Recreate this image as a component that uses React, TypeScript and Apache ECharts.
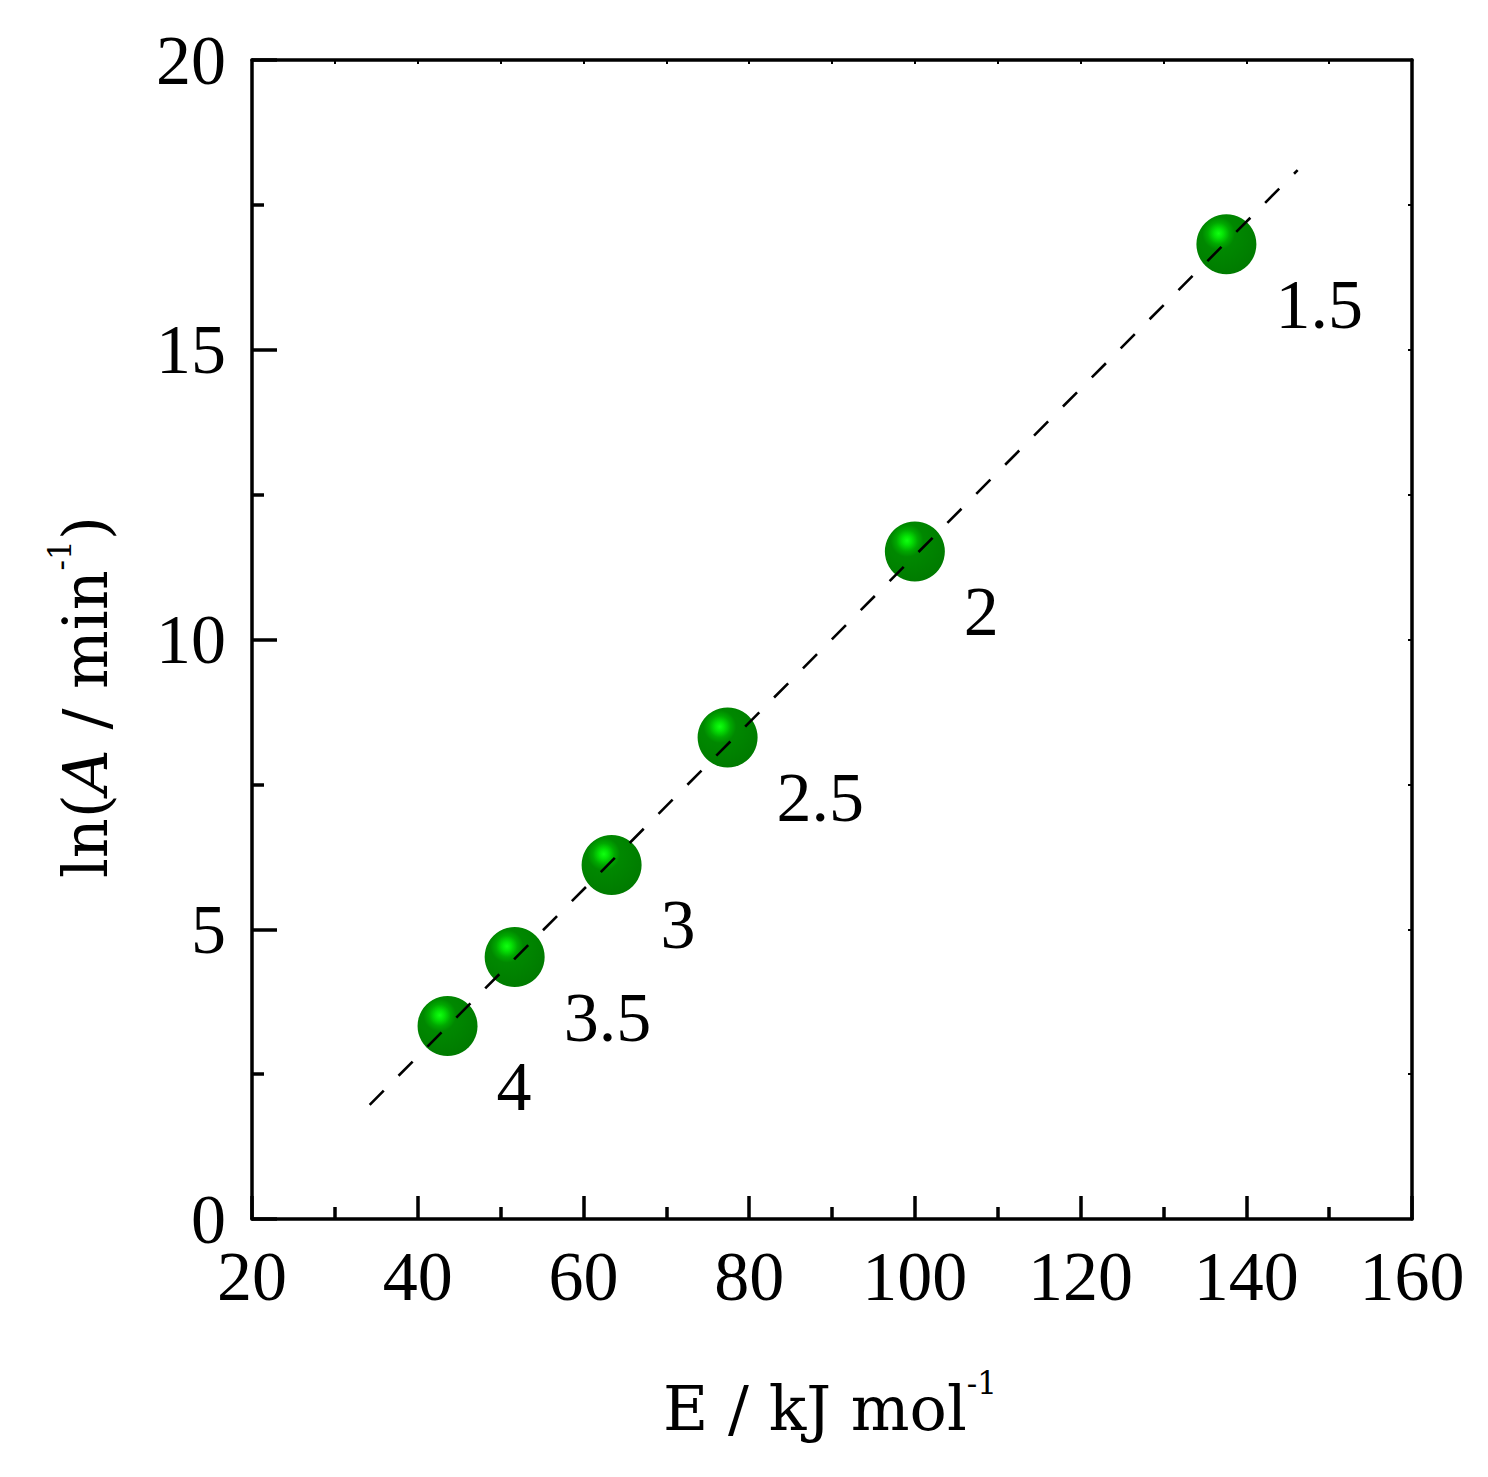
import React, { useEffect, useRef } from "react";
import * as echarts from "echarts";

// Data
const activationEnergy = [43.6, 51.7, 63.4, 77.4, 100.0, 137.6]; // E / kJ mol-1
const lnA = [3.33, 4.52, 6.11, 8.31, 11.52, 16.82]; // ln(A / min-1)
const pointLabels = ["4", "3.5", "3", "2.5", "2", "1.5"];
const fitLineX = [34.2, 146.2];
const fitLineY = [1.97, 18.1];

const xMin = 20;
const xMax = 160;
const xStep = 20;
const yMin = 0;
const yMax = 20;
const yStep = 5;

const NUM_FONT = "'Liberation Serif', 'Times New Roman', serif";
const TITLE_FONT = "'DejaVu Serif', 'Liberation Serif', serif";

export default function App() {
  const ref = useRef<HTMLDivElement>(null);

  useEffect(() => {
    if (!ref.current) return;
    const chart = echarts.init(ref.current, undefined, { renderer: "svg" });

    const scatterData = activationEnergy.map((x, i) => ({
      value: [x, lnA[i]],
      name: pointLabels[i],
    }));
    const fitData = fitLineX.map((x, i) => [x, fitLineY[i]]);

    const axisLine = { show: true, onZero: false, lineStyle: { color: "#000", width: 3.5 } };

    const sphere = {
      type: "radial",
      x: 0.37,
      y: 0.32,
      r: 0.72,
      colorStops: [
        { offset: 0, color: "#10ff10" },
        { offset: 0.1, color: "#05e605" },
        { offset: 0.25, color: "#00a800" },
        { offset: 0.38, color: "#008800" },
        { offset: 1, color: "#007a00" },
      ],
    };

    chart.setOption({
      animation: false,
      backgroundColor: "#fff",
      grid: { left: 244, top: 52, right: 68, bottom: 250, containLabel: false },
      xAxis: [
        {
          type: "value",
          position: "bottom",
          min: xMin,
          max: xMax,
          interval: xStep,
          axisLine,
          axisTick: { show: true, inside: true, length: 23, lineStyle: { color: "#000", width: 3.5 } },
          minorTick: { show: true, splitNumber: 2, length: 12, lineStyle: { color: "#000", width: 3.5 } },
          splitLine: { show: false },
          axisLabel: { show: true, margin: 22, color: "#000", fontSize: 70, fontFamily: NUM_FONT },
        },
        {
          type: "value",
          position: "top",
          min: xMin,
          max: xMax,
          interval: xStep,
          axisLine,
          axisTick: { show: true, inside: true, length: 4, lineStyle: { color: "#000", width: 2 } },
          minorTick: { show: true, splitNumber: 2, length: 4, lineStyle: { color: "#000", width: 2 } },
          splitLine: { show: false },
          axisLabel: { show: false },
        },
      ],
      yAxis: [
        {
          type: "value",
          position: "left",
          min: yMin,
          max: yMax,
          interval: yStep,
          axisLine,
          axisTick: { show: true, inside: true, length: 25, lineStyle: { color: "#000", width: 3.5 } },
          minorTick: { show: true, splitNumber: 2, length: 12, lineStyle: { color: "#000", width: 3.5 } },
          splitLine: { show: false },
          axisLabel: {
            show: true,
            margin: 26,
            color: "#000",
            fontSize: 70,
            fontFamily: NUM_FONT,
            padding: [0, 0, 12, 0],
          },
        },
        {
          type: "value",
          position: "right",
          min: yMin,
          max: yMax,
          interval: yStep,
          axisLine,
          axisTick: { show: true, inside: true, length: 4, lineStyle: { color: "#000", width: 2 } },
          minorTick: { show: true, splitNumber: 2, length: 4, lineStyle: { color: "#000", width: 2 } },
          splitLine: { show: false },
          axisLabel: { show: false },
        },
      ],
      series: [
        {
          type: "scatter",
          xAxisIndex: 0,
          yAxisIndex: 0,
          z: 2,
          symbol: "circle",
          symbolSize: 60,
          itemStyle: { color: sphere, opacity: 1 },
          label: {
            show: true,
            position: "inside",
            offset: [49, 60],
            align: "left",
            verticalAlign: "middle",
            formatter: (p: any) => p.name,
            color: "#000",
            fontSize: 70,
            fontFamily: NUM_FONT,
          },
          emphasis: { disabled: true },
          data: scatterData,
        },
        {
          type: "line",
          xAxisIndex: 0,
          yAxisIndex: 0,
          z: 3,
          symbol: "none",
          lineStyle: { color: "#000", width: 2.6, type: [20, 21] },
          emphasis: { disabled: true },
          data: fitData,
        },
      ],
      graphic: [
        {
          type: "text",
          x: 822,
          y: 1395,
          style: {
            text: "{a|E / kJ mol}{s|-1}",
            textAlign: "center",
            textVerticalAlign: "middle",
            fill: "#000",
            rich: {
              a: { fontSize: 62, fontFamily: TITLE_FONT, fill: "#000", color: "#000", verticalAlign: "bottom", lineHeight: 72 },
              s: { fontSize: 31, fontFamily: TITLE_FONT, fill: "#000", color: "#000", verticalAlign: "top", lineHeight: 72 },
            },
          },
        },
        {
          type: "text",
          x: 72,
          y: 689,
          rotation: Math.PI / 2,
          style: {
            text: "{a|ln(}{i|A}{a| / min}{s|-1}{a|)}",
            textAlign: "center",
            textVerticalAlign: "middle",
            fill: "#000",
            rich: {
              a: { fontSize: 62, fontFamily: TITLE_FONT, fill: "#000", color: "#000", verticalAlign: "bottom", lineHeight: 72 },
              i: { fontSize: 62, fontFamily: TITLE_FONT, fontStyle: "italic", fill: "#000", color: "#000", verticalAlign: "bottom", lineHeight: 72 },
              s: { fontSize: 31, fontFamily: TITLE_FONT, fill: "#000", color: "#000", verticalAlign: "top", lineHeight: 72 },
            },
          },
        },
      ],
    });

    return () => chart.dispose();
  }, []);

  return <div ref={ref} style={{ width: 1472, height: 1461 }} />;
}
